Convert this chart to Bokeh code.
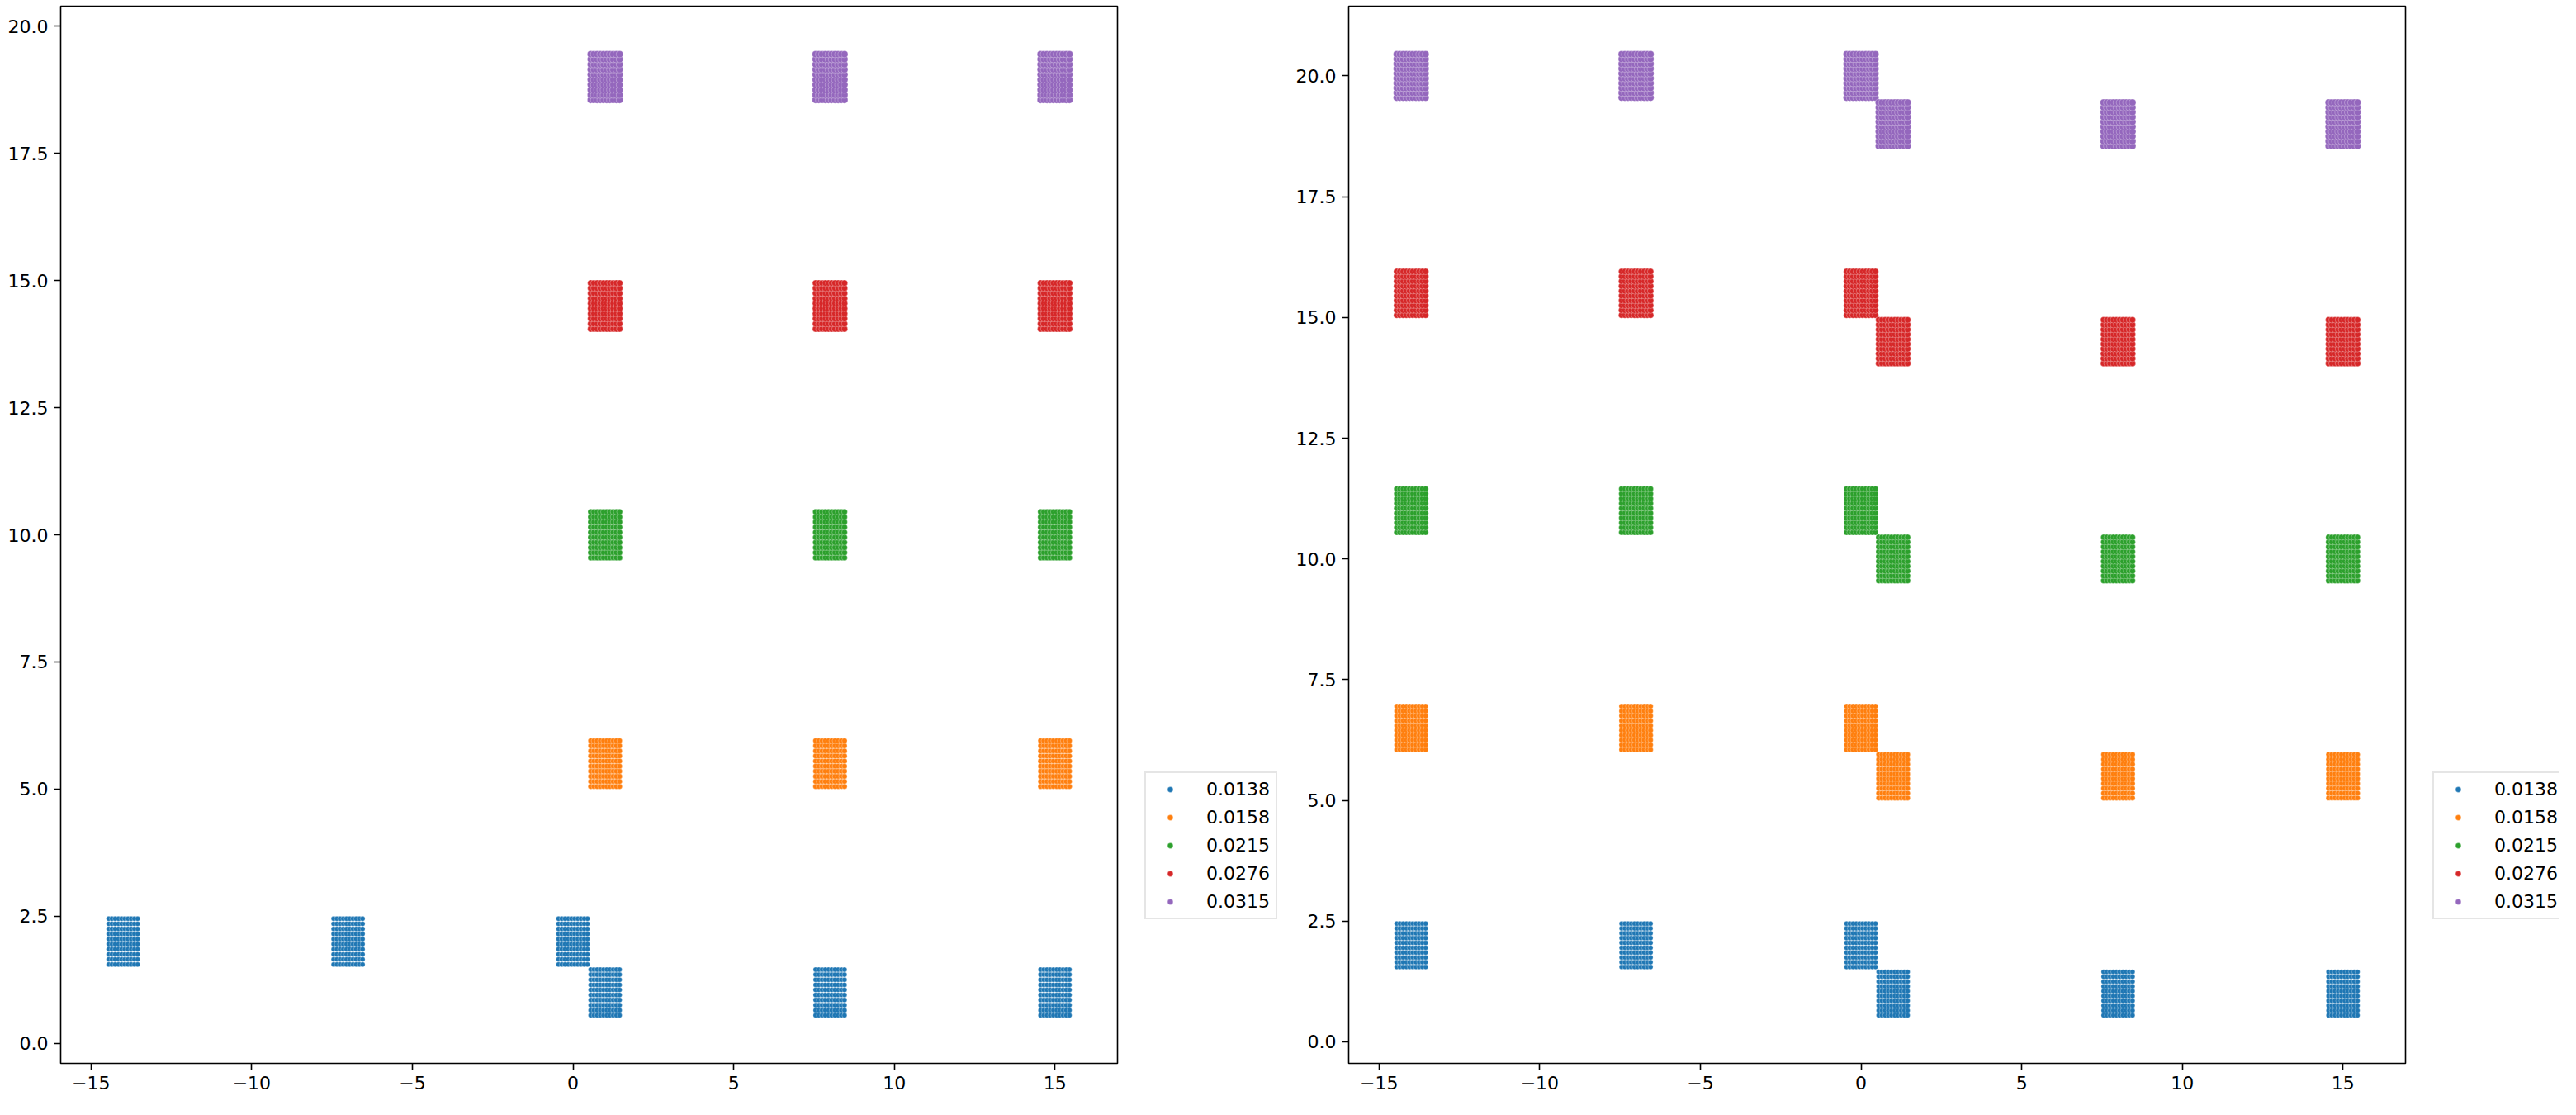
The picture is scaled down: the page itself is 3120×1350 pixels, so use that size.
from bokeh.plotting import figure
from bokeh.models import Range1d, FixedTicker, Legend, LegendItem, ColumnDataSource, CDSView, IndexFilter
from bokeh.layouts import row
from bokeh.embed import file_html
from bokeh.resources import INLINE

# ---------------- data ----------------
levels = ["0.0138", "0.0158", "0.0215", "0.0276", "0.0315"]
colors = ["#1f77b4", "#ff7f0e", "#2ca02c", "#d62728", "#9467bd"]
marker_sizes = [6.0, 6.4, 7.0, 7.6, 8.2]

# each cluster is a 10 x 10 grid of points around its centre
grid_offsets = [-0.45, -0.35, -0.25, -0.15, -0.05, 0.05, 0.15, 0.25, 0.35, 0.45]

# left panel: cluster centres per level
left_x_0138 = [-14, -7, 0, 1, 8, 15]
left_y_0138 = [2, 2, 2, 1, 1, 1]
left_x_0158 = [1, 8, 15]
left_y_0158 = [5.5, 5.5, 5.5]
left_x_0215 = [1, 8, 15]
left_y_0215 = [10, 10, 10]
left_x_0276 = [1, 8, 15]
left_y_0276 = [14.5, 14.5, 14.5]
left_x_0315 = [1, 8, 15]
left_y_0315 = [19, 19, 19]

# right panel: cluster centres per level
right_x_0138 = [-14, -7, 0, 1, 8, 15]
right_y_0138 = [2, 2, 2, 1, 1, 1]
right_x_0158 = [-14, -7, 0, 1, 8, 15]
right_y_0158 = [6.5, 6.5, 6.5, 5.5, 5.5, 5.5]
right_x_0215 = [-14, -7, 0, 1, 8, 15]
right_y_0215 = [11, 11, 11, 10, 10, 10]
right_x_0276 = [-14, -7, 0, 1, 8, 15]
right_y_0276 = [15.5, 15.5, 15.5, 14.5, 14.5, 14.5]
right_x_0315 = [-14, -7, 0, 1, 8, 15]
right_y_0315 = [20, 20, 20, 19, 19, 19]

x_ticks = [-15, -10, -5, 0, 5, 10, 15]
x_tick_labels = ["\u221215", "\u221210", "\u22125", "0", "5", "10", "15"]
y_ticks = [0, 2.5, 5, 7.5, 10, 12.5, 15, 17.5, 20]
y_tick_labels = ["0.0", "2.5", "5.0", "7.5", "10.0", "12.5", "15.0", "17.5", "20.0"]

left_series = [(left_x_0138, left_y_0138), (left_x_0158, left_y_0158),
               (left_x_0215, left_y_0215), (left_x_0276, left_y_0276),
               (left_x_0315, left_y_0315)]
right_series = [(right_x_0138, right_y_0138), (right_x_0158, right_y_0158),
                (right_x_0215, right_y_0215), (right_x_0276, right_y_0276),
                (right_x_0315, right_y_0315)]

FONT = "DejaVu Sans"
FIG_H = 1330


def expand(cx, cy):
    xs, ys = [], []
    for x0, y0 in zip(cx, cy):
        for dy in grid_offsets:
            for dx in grid_offsets:
                xs.append(x0 + dx)
                ys.append(y0 + dy)
    return xs, ys


def make_sources(series):
    out = []
    for cx, cy in series:
        xs, ys = expand(cx, cy)
        out.append(ColumnDataSource(data=dict(x=xs, y=ys)))
    return out


def make_fig(sources, y_start, y_end):
    p = figure(output_backend="svg", toolbar_location=None,
               frame_width=1280, frame_height=1280,
               x_range=Range1d(-15.945, 16.945), y_range=Range1d(y_start, y_end),
               min_border_left=73, min_border_right=2,
               min_border_top=7, min_border_bottom=FIG_H - 1287,
               background_fill_color="white", border_fill_color="white")
    p.xgrid.grid_line_color = None
    p.ygrid.grid_line_color = None
    p.outline_line_color = "black"
    p.outline_line_width = 1.6
    p.outline_line_alpha = 1.0

    for ax, ticks, labels in ((p.xaxis[0], x_ticks, x_tick_labels),
                              (p.yaxis[0], y_ticks, y_tick_labels)):
        ax.ticker = FixedTicker(ticks=ticks)
        ax.major_label_overrides = {t: lab for t, lab in zip(ticks, labels)}
        ax.axis_line_color = None
        ax.major_tick_line_color = "black"
        ax.major_tick_line_width = 1.6
        ax.major_tick_out = 8
        ax.major_tick_in = 0
        ax.minor_tick_line_color = None
        ax.major_label_standoff = 7
        ax.major_label_text_font = FONT
        ax.major_label_text_font_size = "22px"
        ax.major_label_text_color = "black"

    for src, col, sz in zip(sources, colors, marker_sizes):
        p.scatter("x", "y", source=src, size=sz, marker="circle", fill_color=col,
                  line_color="white", line_width=0.3)
    return p


def make_legend_fig(width, sources):
    # a plain strip holding the legend; its y range lies below all data,
    # so the legend-only renderers draw nothing inside it
    lf = figure(output_backend="svg", toolbar_location=None,
                width=width, height=FIG_H, min_border=0,
                x_axis_type=None, y_axis_type=None,
                x_range=Range1d(0, 1), y_range=Range1d(-2, -1),
                background_fill_color="white", border_fill_color="white")
    lf.outline_line_color = None
    lf.xgrid.grid_line_color = None
    lf.ygrid.grid_line_color = None
    items = []
    for src, lev, col, sz in zip(sources, levels, colors, marker_sizes):
        r = lf.scatter("x", "y", source=src, view=CDSView(filter=IndexFilter(indices=[0])),
                       size=sz, marker="circle", fill_color=col,
                       line_color="white", line_width=0.3)
        items.append(LegendItem(label=lev, renderers=[r]))
    legend = Legend(items=items, location=(31, 174), margin=0,
                    padding=7, spacing=9, glyph_width=44, glyph_height=17,
                    label_standoff=22, label_height=20,
                    label_text_font=FONT, label_text_font_size="22px",
                    label_text_color="black",
                    border_line_color="#cccccc", border_line_width=2,
                    background_fill_color="white", background_fill_alpha=1.0)
    lf.add_layout(legend)
    return lf


left_sources = make_sources(left_series)
right_sources = make_sources(right_series)

p1 = make_fig(left_sources, -0.395, 20.395)
l1 = make_legend_fig(205, left_sources)
p2 = make_fig(right_sources, -0.445, 21.445)
l2 = make_legend_fig(185, right_sources)

layout = row(p1, l1, p2, l2)
open("out.html", "w").write(file_html(layout, INLINE))
